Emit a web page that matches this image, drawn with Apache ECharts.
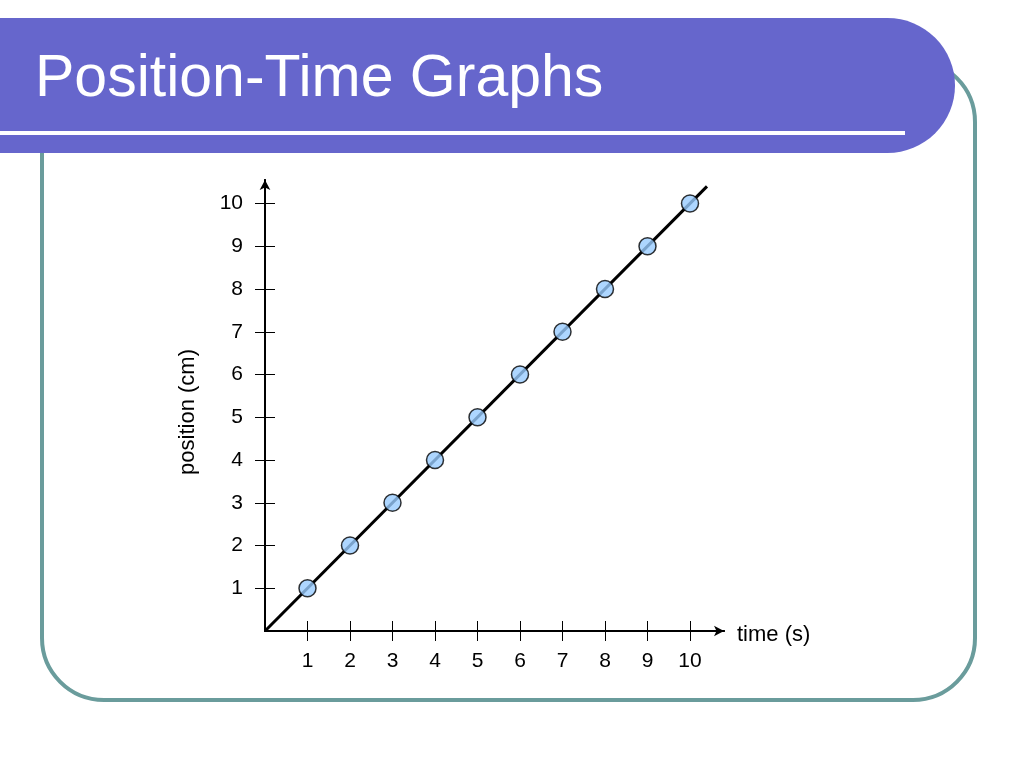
<!DOCTYPE html>
<html><head><meta charset="utf-8">
<script src="https://cdn.jsdelivr.net/npm/echarts@6/dist/echarts.min.js"></script>
<style>html,body{margin:0;padding:0;background:#fff}#c{width:1024px;height:768px}</style>
</head><body><div id="c"></div>
<script>
const times = [1,2,3,4,5,6,7,8,9,10];
const positions = [1,2,3,4,5,6,7,8,9,10];
const tickValues = [1,2,3,4,5,6,7,8,9,10];
const fitLine = [[0,0],[10.4,10.4]];

const chart = echarts.init(document.getElementById('c'));
const font = 'Liberation Sans, Arial, sans-serif';
function axisCommon(pos, inside, showLabel, isX){
  return {
    type:'value', min:0, max: isX?10.8:10.55, position: pos,
    axisLine:{show:true, onZero:false, lineStyle:{color:'#000', width:2},
      symbol: showLabel?['none','arrow']:'none', symbolSize:[8,10]},
    axisTick:{show:true, inside:inside, length:10, lineStyle:{color:'#000',width:1}, customValues:tickValues},
    axisLabel:{show:showLabel, customValues:tickValues, color:'#000', fontSize:21, fontFamily:font, margin:isX?20:22},
    splitLine:{show:false}
  };
}
chart.setOption({
  animation:false,
  grid:{left:265, top:631-451, width:459, height:451},
  graphic:[
    {type:'rect', shape:{x:42,y:60,width:933,height:640,r:62}, style:{fill:'none', stroke:'#6a9c9c', lineWidth:4}, z:-10},
    {type:'rect', shape:{x:-80,y:18,width:1035,height:135,r:[0,70,70,0]}, style:{fill:'#6666cc'}, z:-5},
    {type:'rect', shape:{x:0,y:131,width:905,height:4}, style:{fill:'#fff'}, z:-4},
    {type:'text', x:35, y:50, style:{text:'Position-Time Graphs', fill:'#fff', font:'59px '+font}, z:-3},
    {type:'text', x:737, y:624, style:{text:'time (s)', fill:'#000', font:'22px '+font}},
    {type:'text', x:188, y:412, rotation:Math.PI/2, style:{text:'position (cm)', fill:'#000', font:'22px '+font, align:'center', verticalAlign:'middle'}}
  ],
  xAxis:[axisCommon('bottom', false, true, true), axisCommon('bottom', true, false, true)],
  yAxis:[axisCommon('left', false, true, false), axisCommon('left', true, false, false)],
  series:[
    {type:'line', data:fitLine, symbol:'none', lineStyle:{color:'#000', width:3}, z:2},
    {type:'scatter', data:times.map((t,i)=>[t,positions[i]]), symbolSize:17,
     itemStyle:{color:'#99ccff', borderColor:'#000', borderWidth:1.5}, z:3}
  ]
});
</script></body></html>
